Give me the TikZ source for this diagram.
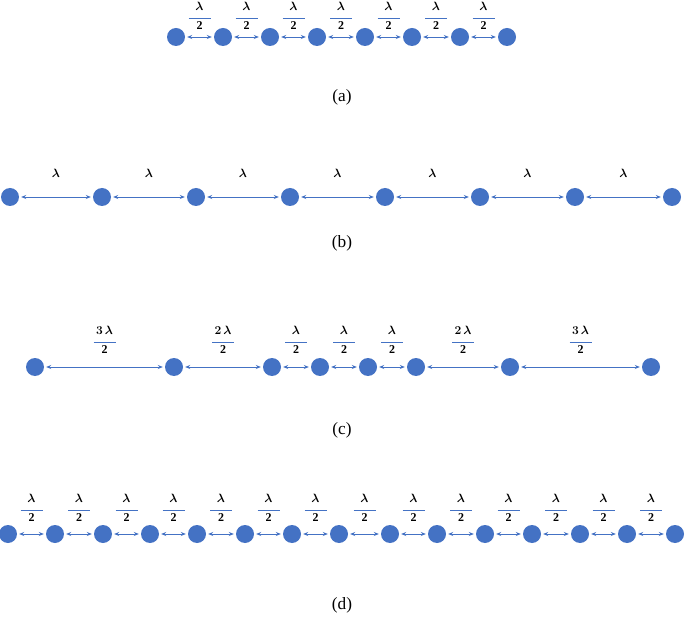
\documentclass[tikz,border=0pt]{standalone}
\usepackage{bm}
\usepackage{fontspec}
\setmainfont{Liberation Serif}
\usetikzlibrary{arrows.meta}
\definecolor{dotblue}{HTML}{4472C4}
\newcommand{\fr}[1]{\begin{tabular}{@{}c@{}}$\bm{#1}$\\[-5pt]\textcolor{dotblue}{\rule{22pt}{1.2pt}}\\[-4pt]$\mathbf{2}$\end{tabular}}
\tikzset{
  dot/.style={circle,fill=dotblue,minimum size=18pt,inner sep=0pt},
  link/.style={dotblue,line width=0.7pt,{Stealth[length=5pt,width=4pt]}-{Stealth[length=5pt,width=4pt]},shorten <=2pt,shorten >=2pt},
  lab/.style={font=\large,inner sep=0pt},
  captxt/.style={font=\LARGE}
}
\begin{document}
\begin{tikzpicture}[x=1pt,y=-1pt]
\useasboundingbox (0,0) rectangle (685,617);
% (a)
\foreach \x [count=\i] in {176,223,270,317,365,412,460,507} \node[dot] (a\i) at (\x,37) {};
\foreach \i [evaluate=\i as \j using int(\i+1)] in {1,...,7} {
  \draw[link] (a\i) -- (a\j);
  \path (a\i) -- (a\j) node[midway,lab,yshift=20pt] {\fr{\lambda}};
}
\node[captxt] (ca) at (342,97) {(a)};
% (b)
\foreach \x [count=\i] in {10,102,196,290,385,480,575,672} \node[dot] (b\i) at (\x,197) {};
\foreach \i [evaluate=\i as \j using int(\i+1)] in {1,...,7} {
  \draw[link] (b\i) -- (b\j);
  \path (b\i) -- (b\j) node[midway,lab,yshift=24pt] {$\bm{\lambda}$};
}
\node[captxt] (cb) at (342,243) {(b)};
% (c)
\foreach \x [count=\i] in {35,174,272,320,368,416,510,651} \node[dot] (c\i) at (\x,367) {};
\foreach \i/\n [evaluate=\i as \j using int(\i+1)] in {1/3\,\lambda,2/2\,\lambda,3/\lambda,4/\lambda,5/\lambda,6/2\,\lambda,7/3\,\lambda} {
  \draw[link] (c\i) -- (c\j);
  \path (c\i) -- (c\j) node[midway,lab,yshift=26pt] {\fr{\n}};
}
\node[captxt] (cc) at (342,430) {(c)};
% (d)
\foreach \x [count=\i] in {8,55,103,150,197,245,292,339,390,437,485,532,580,627,675} \node[dot] (d\i) at (\x,534) {};
\foreach \i [evaluate=\i as \j using int(\i+1)] in {1,...,14} {
  \draw[link] (d\i) -- (d\j);
  \path (d\i) -- (d\j) node[midway,lab,yshift=25pt] {\fr{\lambda}};
}
\node[captxt] (cd) at (342,605) {(d)};
\end{tikzpicture}
\end{document}
